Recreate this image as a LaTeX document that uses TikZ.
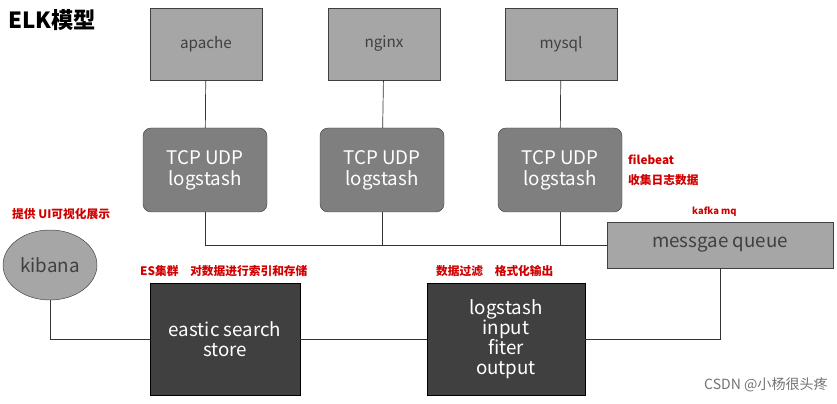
\documentclass[tikz,border=0pt]{standalone}
\usepackage{fontspec}
\setmainfont{Noto Sans CJK SC}
\usetikzlibrary{shapes.geometric}
\definecolor{lgray}{HTML}{A6A6A6}
\definecolor{mgray}{HTML}{7F7F7F}
\definecolor{dgray}{HTML}{404040}
\definecolor{lbl}{HTML}{D00000}
\tikzset{
 src/.style={draw=dgray,fill=lgray,minimum width=112*0.03cm,minimum height=72*0.03cm,text=dgray,font=\fontsize{13}{15}\selectfont},
 tcp/.style={draw=dgray,fill=mgray,rounded corners=8*0.03cm,minimum width=124*0.03cm,minimum height=84*0.03cm,text=white,align=center,font=\fontsize{16}{18}\selectfont},
 dark/.style={draw=black,fill=dgray,minimum width=150*0.03cm,minimum height=112*0.03cm,text=white,align=center,font=\fontsize{16}{17}\selectfont},
 red/.style={text=lbl,font=\bfseries\fontsize{10}{12}\selectfont,anchor=west,inner sep=0pt},
 conn/.style={draw=black!80,line width=0.6pt}
}
\begin{document}
\begin{tikzpicture}[x=0.03cm,y=-0.03cm]
\useasboundingbox (0,0) rectangle (837,404);
\node[anchor=west,font=\bfseries\fontsize{19}{21}\selectfont,inner sep=0pt] (title) at (8,20) {ELK模型};
\node[src] (apache) at (206,44) {apache};
\node[src] (nginx) at (384,44) {nginx};
\node[src] (mysql) at (561,44) {mysql};
\node[tcp] (t1) at (205,170) {TCP UDP\\logstash};
\node[tcp] (t2) at (382,170) {TCP UDP\\logstash};
\node[tcp] (t3) at (560,170) {TCP UDP\\logstash};
\node[draw=dgray,fill=lgray,minimum width=226*0.03cm,minimum height=46*0.03cm,text=dgray,font=\fontsize{16}{18}\selectfont] (q) at (720,245) {messgae queue};
\node[ellipse,draw=dgray,fill=lgray,minimum width=94*0.03cm,minimum height=70*0.03cm,text=dgray,font=\fontsize{16}{18}\selectfont,inner sep=0pt] (kib) at (50,265) {kibana};
\node[dark] (es) at (225,339) {eastic search\\store};
\node[dark,minimum width=158*0.03cm] (ls) at (506,339) {logstash\\input\\fiter\\output};
\node[red] (l1) at (628,160) {filebeat};
\node[red] (l2) at (628,180) {收集日志数据};
\node[red,font=\bfseries\fontsize{8}{10}\selectfont] (l3) at (692,212) {kafka mq};
\node[red] (l4) at (12,214) {提供 UI可视化展示};
\node[red] (l5) at (140,271) {ES集群\quad 对数据进行索引和存储};
\node[red] (l6) at (436,271) {数据过滤\quad 格式化输出};
\node[anchor=east,text=black!55,font=\fontsize{12}{14}\selectfont,inner sep=0pt] (wm) at (828,385) {CSDN @小杨很头疼};
\coordinate (j1) at (t1.south |- q.west);
\draw[conn] (apache) -- (t1);
\draw[conn] (nginx) -- (t2);
\draw[conn] (mysql) -- (t3);
\draw[conn] (t1.south) -- (j1) -- (q.west);
\draw[conn] (t2.south) -- (t2.south |- q.west);
\draw[conn] (t3.south) -- (t3.south |- q.west);
\draw[conn] (kib.south) |- (es.west);
\draw[conn] (es.east) -- (ls.west);
\draw[conn] (q.south) |- (ls.east);
\end{tikzpicture}
\end{document}
